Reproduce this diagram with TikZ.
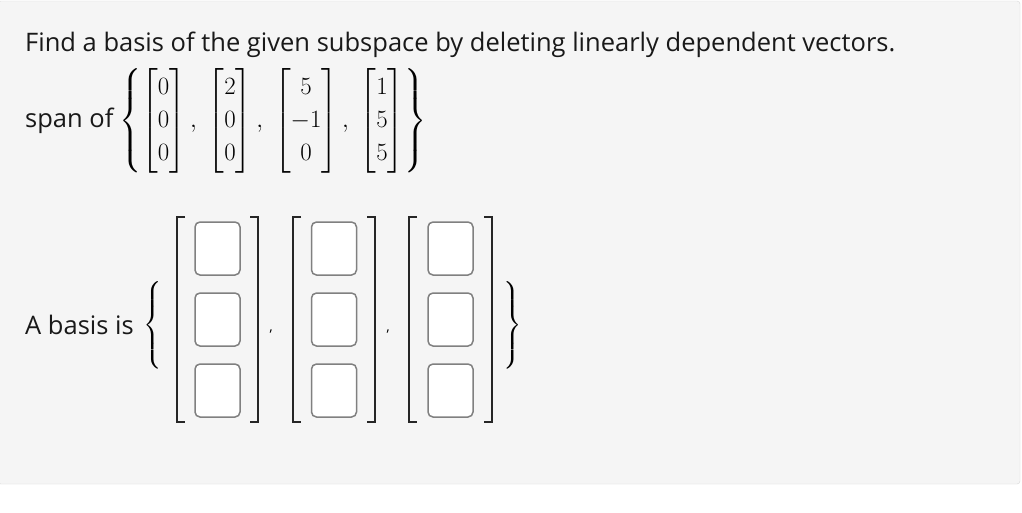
\documentclass[tikz,border=0pt]{standalone}
\usepackage{amsmath}
\usepackage{fontspec}
\setmainfont{Open Sans}
\begin{document}
\begin{tikzpicture}[x=1pt,y=-1pt,
  txt/.style={anchor=west,inner sep=0pt,text=black!90,font=\fontsize{25.5}{30}\selectfont},
  ibox/.style={draw=black!50,line width=1.5pt,fill=white,rounded corners=5pt,minimum width=45pt,minimum height=53pt,inner sep=0pt},
  brk/.style={draw=black!85,line width=2.5pt}]
\useasboundingbox (0,0) rectangle (1022,512);
\fill[white] (0,0) rectangle (1022,512);
\draw[draw=black!15,fill=black!4,rounded corners=3pt] (-2,1) rectangle (1020,484);
\node[txt] (title) at (25,45) {Find a basis of the given subspace by deleting linearly dependent vectors.};
\node[txt] (span) at (25,121) {span of};
\node[anchor=west,inner sep=0pt] (mats) at (119,121) {\fontsize{26}{31}\selectfont\renewcommand{\arraystretch}{1.05}$\left\{\begin{bmatrix}0\\0\\0\end{bmatrix},\ \begin{bmatrix}2\\0\\0\end{bmatrix},\ \begin{bmatrix}5\\-1\\0\end{bmatrix},\ \begin{bmatrix}1\\5\\5\end{bmatrix}\right\}$};
\node[txt] (basis) at (25,325) {A basis is};
\node[anchor=center,inner sep=0pt] (lb) at (153,326) {\fontsize{20}{24}\selectfont$\left\{\rule[-40pt]{0pt}{80pt}\right.$};
\node[anchor=center,inner sep=0pt] (rb) at (512,326) {\fontsize{20}{24}\selectfont$\left.\rule[-40pt]{0pt}{80pt}\right\}$};
\foreach \xl/\xr/\n in {177/258/a,293/375/b,409/492/c}{
  \draw[brk] (\xl+8,217) -- (\xl,217) -- (\xl,422) -- (\xl+8,422);
  \draw[brk] (\xr-8,217) -- (\xr,217) -- (\xr,422) -- (\xr-8,422);
  \node[ibox] (\n1) at ({(\xl+\xr)/2},248.5) {};
  \node[ibox] (\n2) at ({(\xl+\xr)/2},319.5) {};
  \node[ibox] (\n3) at ({(\xl+\xr)/2},390.5) {};
}
\node[inner sep=0pt,font=\fontsize{14}{16}\selectfont] (c1) at (271,332) {,};
\node[inner sep=0pt,font=\fontsize{14}{16}\selectfont] (c2) at (388,332) {,};
\end{tikzpicture}
\end{document}
